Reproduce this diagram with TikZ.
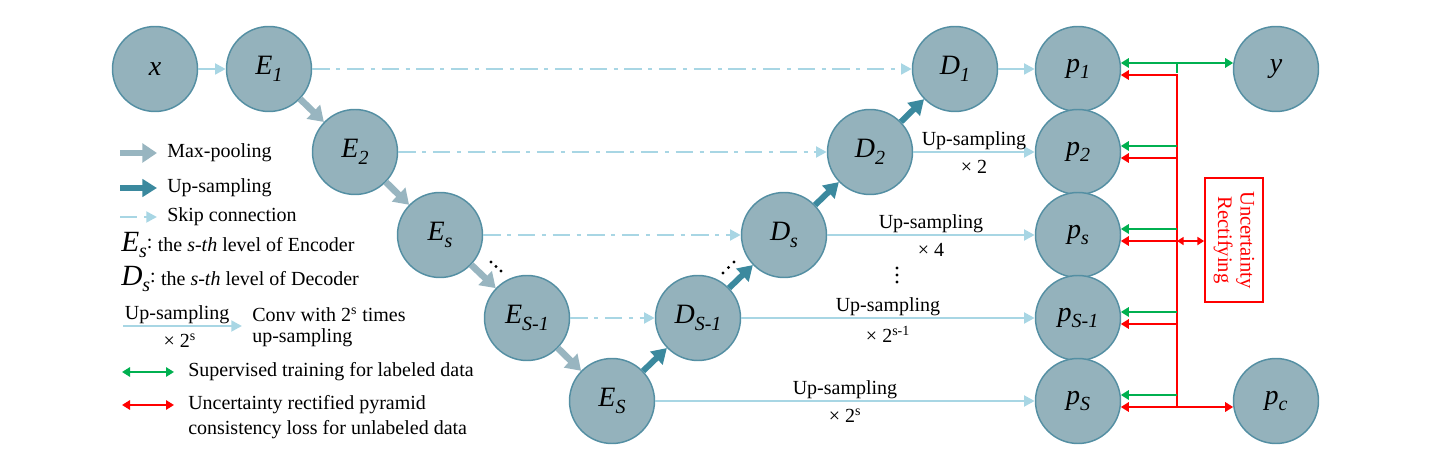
\documentclass[tikz,border=0pt]{standalone}
\usepackage{fontspec}
\setmainfont{Liberation Serif}
\usetikzlibrary{arrows.meta,calc}
\definecolor{nfill}{RGB}{148,178,188}
\definecolor{nborder}{RGB}{84,143,163}
\definecolor{poolc}{RGB}{152,181,192}
\definecolor{upc}{RGB}{59,137,158}
\definecolor{lblue}{RGB}{168,214,228}
\definecolor{grn}{RGB}{0,176,80}
\definecolor{rd}{RGB}{255,0,0}
\newcommand{\nlab}[2]{\textit{#1}\raisebox{-5pt}{\fontsize{15}{15}\selectfont\textit{#2}}}
\begin{document}
\begin{tikzpicture}[x=0.75pt,y=-0.75pt,
  nd/.style={circle,draw=nborder,fill=nfill,line width=1.1pt,minimum size=63.75pt,inner sep=0pt,font=\fontsize{21}{21}\selectfont},
  poolarrow/.style={draw=poolc,line width=5pt,-{Triangle[width=14pt,length=11pt]}},
  uparrow/.style={draw=upc,line width=4.5pt,-{Triangle[width=13pt,length=11pt]}},
  skiparrow/.style={draw=lblue,line width=2pt,dash pattern=on 13pt off 5pt on 3pt off 5pt,-{Triangle[width=8pt,length=8pt]}},
  convarrow/.style={draw=lblue,line width=2pt,-{Triangle[width=8pt,length=8pt]}},
  garrow/.style={draw=grn,line width=2pt},
  rarrow/.style={draw=rd,line width=2pt},
  lbl/.style={font=\fontsize{15}{17}\selectfont,inner sep=0pt},
  lgd/.style={font=\fontsize{15}{17}\selectfont,anchor=west,inner sep=0pt,align=left},
  dotmark/.style={fill=black,draw=none}
]
\useasboundingbox (0,0) rectangle (1440,466);

% nodes
\node[nd] (x)   at (155,69)  {\textit{x}};
\node[nd] (E1)  at (269,69)  {\nlab{E}{1}};
\node[nd] (E2)  at (355,152) {\nlab{E}{2}};
\node[nd] (Es)  at (440,235) {\nlab{E}{s}};
\node[nd] (ES1) at (527,318) {\nlab{E}{S-1}};
\node[nd] (ES)  at (612,401) {\nlab{E}{S}};
\node[nd] (DS1) at (698,318) {\nlab{D}{S-1}};
\node[nd] (Ds)  at (784,235) {\nlab{D}{s}};
\node[nd] (D2)  at (870,152) {\nlab{D}{2}};
\node[nd] (D1)  at (955,69)  {\nlab{D}{1}};
\node[nd] (p1)  at (1078,69)  {\nlab{p}{1}};
\node[nd] (p2)  at (1078,152) {\nlab{p}{2}};
\node[nd] (ps)  at (1078,235) {\nlab{p}{s}};
\node[nd] (pS1) at (1078,318) {\nlab{p}{S-1}};
\node[nd] (pS)  at (1078,401) {\nlab{p}{S}};
\node[nd] (yn)  at (1276,69)  {\textit{y}};
\node[nd] (pc)  at (1276,401) {\nlab{p}{c}};

% input arrow
\draw[convarrow] (x) -- (E1);

% max-pooling
\draw[poolarrow] (E1) -- (E2);
\draw[poolarrow] (E2) -- (Es);
\draw[poolarrow] (Es) -- (ES1);
\draw[poolarrow] (ES1) -- (ES);

% up-sampling
\draw[uparrow] (ES) -- (DS1);
\draw[uparrow] (DS1) -- (Ds);
\draw[uparrow] (Ds) -- (D2);
\draw[uparrow] (D2) -- (D1);

% skip connections
\draw[skiparrow] (E1) -- (D1);
\draw[skiparrow] (E2) -- (D2);
\draw[skiparrow] (Es) -- (Ds);
\draw[skiparrow] (ES1) -- (DS1);

% conv up-sampling to predictions
\draw[convarrow] (D1) -- (p1);
\draw[convarrow] (D2) -- node[lbl,above=1pt]{Up-sampling} node[lbl,below=5pt]{× 2} (p2);
\draw[convarrow] (Ds) -- node[lbl,above=1pt]{Up-sampling} node[lbl,below=5pt]{× 4} (ps);
\draw[convarrow] (DS1) -- node[lbl,above=1pt]{Up-sampling} node[lbl,below=5pt]{× 2\textsuperscript{s-1}} (pS1);
\draw[convarrow] (ES) -- node[lbl,above=1pt]{Up-sampling} node[lbl,below=5pt]{× 2\textsuperscript{s}} (pS);

% ellipsis dots
\foreach \px/\py in {491/262,496/266.5,501/271,723/273,728.5/267.5,734/262,897/268,897/275,897/282}
  \fill[dotmark] (\px,\py) circle[radius=1.2pt];

% right side bus
\coordinate (bus) at (1177,69);
\node[draw=rd,line width=1.3pt,rotate=-90,minimum width=93pt,minimum height=43.5pt,inner sep=1pt,align=center,text=rd,font=\fontsize{15.5}{17}\selectfont] (rect) at (1234,240) {Uncertainty\\Rectifying};

\draw[garrow,{Triangle[width=7pt,length=6pt]}-{Triangle[width=7pt,length=6pt]}] (p1.8) -- (yn.172);
\draw[garrow] (p1.8 -| bus) -- ($(p1.-8 -| bus)+(0,-2)$);
\draw[rarrow,line cap=rect] (p1.-8 -| bus) -- (pS.-8 -| bus);
\draw[rarrow,{Triangle[width=7pt,length=6pt]}-] (p1.-8) -- (p1.-8 -| bus);
\foreach \n in {p2,ps,pS1}{
  \draw[garrow,{Triangle[width=7pt,length=6pt]}-] (\n.8) -- (\n.8 -| bus);
  \draw[rarrow,{Triangle[width=7pt,length=6pt]}-] (\n.-8) -- (\n.-8 -| bus);
}
\draw[garrow,{Triangle[width=7pt,length=6pt]}-] (pS.8) -- (pS.8 -| bus);
\draw[rarrow,{Triangle[width=7pt,length=6pt]}-{Triangle[width=7pt,length=6pt]}] (pS.-8) -- (pc.188);
\draw[rarrow,{Triangle[width=6pt,length=5pt]}-{Triangle[width=6pt,length=5pt]}] (ps.-8 -| bus) -- (ps.-8 -| rect.south);

% legend
\coordinate (l1a) at (120,153); \coordinate (l1b) at (157,153);
\draw[poolarrow] (l1a) -- (l1b);
\node[lgd] (t1) at (167,153) {Max-pooling};
\coordinate (l2a) at (120,188); \coordinate (l2b) at (157,188);
\draw[uparrow] (l2a) -- (l2b);
\node[lgd] (t2) at (167,188) {Up-sampling};
\coordinate (l3a) at (120,217); \coordinate (l3b) at (157,217);
\draw[skiparrow] (l3a) -- (l3b);
\node[lgd] (t3) at (167,217) {Skip connection};
\node[lgd] (t4) at (121,245) {{\fontsize{22}{22}\selectfont\nlab{E}{s}}\raisebox{2pt}{:}\hspace{4pt}the \textit{s-th} level of Encoder};
\node[lgd] (t5) at (121,279) {{\fontsize{22}{22}\selectfont\nlab{D}{s}}\raisebox{2pt}{:}\hspace{4pt}the \textit{s-th} level of Decoder};
\coordinate (l6a) at (123,326); \coordinate (l6b) at (242,326);
\draw[convarrow] (l6a) -- node[lbl,above=1pt,xshift=-4pt]{Up-sampling} node[lbl,below=5pt,xshift=-2pt]{× 2\textsuperscript{s}} (l6b);
\node[lgd] (t6) at (252,315) {Conv with 2\textsuperscript{s} times};
\node[lgd] (t6b) at (252,338) {up-sampling};
\coordinate (l7a) at (122,372); \coordinate (l7b) at (174,372);
\draw[garrow,{Triangle[width=7pt,length=6pt]}-{Triangle[width=7pt,length=6pt]}] (l7a) -- (l7b);
\node[lgd] (t7) at (188,372) {Supervised training for labeled data};
\coordinate (l8a) at (122,405); \coordinate (l8b) at (174,405);
\draw[rarrow,{Triangle[width=7pt,length=6pt]}-{Triangle[width=7pt,length=6pt]}] (l8a) -- (l8b);
\node[lgd] (t8) at (188,405) {Uncertainty rectified pyramid};
\node[lgd] (t8b) at (188,430) {consistency loss for unlabeled data};
\end{tikzpicture}
\end{document}
